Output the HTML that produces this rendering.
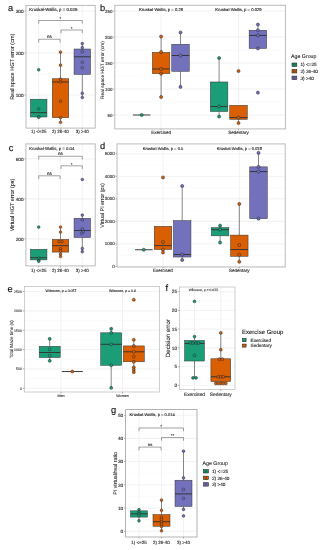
<!DOCTYPE html>
<html lang="en"><head><meta charset="utf-8"><title>Figure</title>
<style>
html,body{margin:0;padding:0;background:#fff;}
body{width:320px;height:550px;overflow:hidden;}
svg{display:block;text-rendering:geometricPrecision;font-family:'Liberation Sans', Arial, sans-serif;}
</style></head>
<body>
<svg width="320" height="550" viewBox="0 0 320 550" font-family='"Liberation Sans", Arial, sans-serif'>
<rect width="320" height="550" fill="#fff"/>
<rect x="26.0" y="5.4" width="69.2" height="122.69999999999999" fill="#fff"/>
<line x1="26.0" x2="95.2" y1="116.00" y2="116.00" stroke="#f2f2f2" stroke-width="0.35"/>
<line x1="26.0" x2="95.2" y1="74.00" y2="74.00" stroke="#f2f2f2" stroke-width="0.35"/>
<line x1="26.0" x2="95.2" y1="32.00" y2="32.00" stroke="#f2f2f2" stroke-width="0.35"/>
<line x1="26.0" x2="95.2" y1="95.00" y2="95.00" stroke="#e9e9e9" stroke-width="0.6"/>
<line x1="24.5" x2="26.0" y1="95.00" y2="95.00" stroke="#555" stroke-width="0.5"/>
<text x="23.60" y="96.69" font-size="4.7" text-anchor="end" fill="#333" stroke="#333" stroke-width="0.141">100</text>
<line x1="26.0" x2="95.2" y1="53.00" y2="53.00" stroke="#e9e9e9" stroke-width="0.6"/>
<line x1="24.5" x2="26.0" y1="53.00" y2="53.00" stroke="#555" stroke-width="0.5"/>
<text x="23.60" y="54.69" font-size="4.7" text-anchor="end" fill="#333" stroke="#333" stroke-width="0.141">200</text>
<line x1="26.0" x2="95.2" y1="11.00" y2="11.00" stroke="#e9e9e9" stroke-width="0.6"/>
<line x1="24.5" x2="26.0" y1="11.00" y2="11.00" stroke="#555" stroke-width="0.5"/>
<text x="23.60" y="12.69" font-size="4.7" text-anchor="end" fill="#333" stroke="#333" stroke-width="0.141">300</text>
<line x1="38.70" x2="38.70" y1="5.4" y2="128.1" stroke="#e9e9e9" stroke-width="0.6"/>
<line x1="38.70" x2="38.70" y1="128.1" y2="129.6" stroke="#555" stroke-width="0.5"/>
<text x="38.70" y="132.95" font-size="4.5" text-anchor="middle" fill="#333" stroke="#333" stroke-width="0.135">1) &lt;=25</text>
<line x1="60.50" x2="60.50" y1="5.4" y2="128.1" stroke="#e9e9e9" stroke-width="0.6"/>
<line x1="60.50" x2="60.50" y1="128.1" y2="129.6" stroke="#555" stroke-width="0.5"/>
<text x="60.50" y="132.95" font-size="4.5" text-anchor="middle" fill="#333" stroke="#333" stroke-width="0.135">2) 26-40</text>
<line x1="82.30" x2="82.30" y1="5.4" y2="128.1" stroke="#e9e9e9" stroke-width="0.6"/>
<line x1="82.30" x2="82.30" y1="128.1" y2="129.6" stroke="#555" stroke-width="0.5"/>
<text x="82.30" y="132.95" font-size="4.5" text-anchor="middle" fill="#333" stroke="#333" stroke-width="0.135">3) &gt;40</text>
<text x="14.20" y="66.75" font-size="5.5" text-anchor="middle" fill="#1a1a1a" stroke="#1a1a1a" stroke-width="0.066" transform="rotate(-90 14.20 66.75)">Real space HGT error (cm)</text>
<text x="7.90" y="11.00" font-size="9.3" text-anchor="start" fill="#111" stroke="#111" stroke-width="0.140">a</text>
<line x1="38.70" x2="38.70" y1="117.01" y2="117.26" stroke="#6a6a6a" stroke-width="0.8"/>
<rect x="30.45" y="99.20" width="16.50" height="17.81" fill="#1B9E77" stroke="#333333" stroke-width="0.5"/>
<line x1="30.45" x2="46.95" y1="112.64" y2="112.64" stroke="#333333" stroke-width="0.95"/>
<circle cx="38.70" cy="69.80" r="1.35" fill="#1B9E77" stroke="#1e1e2a" stroke-opacity="0.85" stroke-width="0.55"/>
<circle cx="38.70" cy="108.86" r="1.35" fill="#1B9E77" stroke="#1e1e2a" stroke-opacity="0.85" stroke-width="0.55"/>
<circle cx="38.70" cy="116.84" r="1.35" fill="#1B9E77" stroke="#1e1e2a" stroke-opacity="0.85" stroke-width="0.55"/>
<circle cx="38.70" cy="117.26" r="1.35" fill="#1B9E77" stroke="#1e1e2a" stroke-opacity="0.85" stroke-width="0.55"/>
<line x1="60.50" x2="60.50" y1="78.75" y2="53.00" stroke="#6a6a6a" stroke-width="0.8"/>
<line x1="60.50" x2="60.50" y1="117.68" y2="122.30" stroke="#6a6a6a" stroke-width="0.8"/>
<rect x="52.25" y="78.75" width="16.50" height="38.93" fill="#D95F02" stroke="#333333" stroke-width="0.5"/>
<line x1="52.25" x2="68.75" y1="81.98" y2="81.98" stroke="#333333" stroke-width="0.95"/>
<circle cx="60.50" cy="52.16" r="1.35" fill="#D95F02" stroke="#1e1e2a" stroke-opacity="0.85" stroke-width="0.55"/>
<circle cx="60.50" cy="65.18" r="1.35" fill="#D95F02" stroke="#1e1e2a" stroke-opacity="0.85" stroke-width="0.55"/>
<circle cx="60.50" cy="79.04" r="1.35" fill="#D95F02" stroke="#1e1e2a" stroke-opacity="0.85" stroke-width="0.55"/>
<circle cx="60.50" cy="81.98" r="1.35" fill="#D95F02" stroke="#1e1e2a" stroke-opacity="0.85" stroke-width="0.55"/>
<circle cx="60.50" cy="101.30" r="1.35" fill="#D95F02" stroke="#1e1e2a" stroke-opacity="0.85" stroke-width="0.55"/>
<circle cx="60.50" cy="117.68" r="1.35" fill="#D95F02" stroke="#1e1e2a" stroke-opacity="0.85" stroke-width="0.55"/>
<circle cx="60.50" cy="122.30" r="1.35" fill="#D95F02" stroke="#1e1e2a" stroke-opacity="0.85" stroke-width="0.55"/>
<line x1="82.30" x2="82.30" y1="49.01" y2="43.51" stroke="#6a6a6a" stroke-width="0.8"/>
<line x1="82.30" x2="82.30" y1="74.42" y2="97.52" stroke="#6a6a6a" stroke-width="0.8"/>
<rect x="74.05" y="49.01" width="16.50" height="25.41" fill="#7471BC" stroke="#333333" stroke-width="0.5"/>
<line x1="74.05" x2="90.55" y1="56.78" y2="56.78" stroke="#333333" stroke-width="0.95"/>
<circle cx="82.30" cy="43.51" r="1.35" fill="#7471BC" stroke="#1e1e2a" stroke-opacity="0.85" stroke-width="0.55"/>
<circle cx="82.30" cy="47.54" r="1.35" fill="#7471BC" stroke="#1e1e2a" stroke-opacity="0.85" stroke-width="0.55"/>
<circle cx="82.30" cy="51.74" r="1.35" fill="#7471BC" stroke="#1e1e2a" stroke-opacity="0.85" stroke-width="0.55"/>
<circle cx="82.30" cy="62.24" r="1.35" fill="#7471BC" stroke="#1e1e2a" stroke-opacity="0.85" stroke-width="0.55"/>
<circle cx="82.30" cy="67.70" r="1.35" fill="#7471BC" stroke="#1e1e2a" stroke-opacity="0.85" stroke-width="0.55"/>
<circle cx="82.30" cy="93.32" r="1.35" fill="#7471BC" stroke="#1e1e2a" stroke-opacity="0.85" stroke-width="0.55"/>
<circle cx="82.30" cy="97.52" r="1.35" fill="#7471BC" stroke="#1e1e2a" stroke-opacity="0.85" stroke-width="0.55"/>
<path d="M38.70 23.70V20.50H82.30V23.70" fill="none" stroke="#333" stroke-width="0.45"/>
<text x="60.50" y="20.30" font-size="4.5" text-anchor="middle" fill="#222" stroke="#222" stroke-width="0.054">*</text>
<path d="M61.00 33.20V30.00H82.30V33.20" fill="none" stroke="#333" stroke-width="0.45"/>
<text x="71.65" y="29.80" font-size="4.5" text-anchor="middle" fill="#222" stroke="#222" stroke-width="0.054">*</text>
<path d="M38.70 42.45V39.25H60.00V42.45" fill="none" stroke="#333" stroke-width="0.45"/>
<text x="49.35" y="38.25" font-size="4.5" text-anchor="middle" fill="#222" stroke="#222" stroke-width="0.135">ns</text>
<text x="29.30" y="11.00" font-size="4.35" text-anchor="start" fill="#222" stroke="#222" stroke-width="0.122">Kruskal-Wallis, p = 0.025</text>
<rect x="26.0" y="5.4" width="69.2" height="122.69999999999999" fill="none" stroke="#b8b8b8" stroke-width="0.95"/>
<rect x="114.8" y="5.3" width="170.59999999999997" height="123.60000000000001" fill="#fff"/>
<line x1="114.8" x2="285.4" y1="102.00" y2="102.00" stroke="#f2f2f2" stroke-width="0.35"/>
<line x1="114.8" x2="285.4" y1="76.00" y2="76.00" stroke="#f2f2f2" stroke-width="0.35"/>
<line x1="114.8" x2="285.4" y1="50.00" y2="50.00" stroke="#f2f2f2" stroke-width="0.35"/>
<line x1="114.8" x2="285.4" y1="24.00" y2="24.00" stroke="#f2f2f2" stroke-width="0.35"/>
<line x1="114.8" x2="285.4" y1="115.00" y2="115.00" stroke="#e9e9e9" stroke-width="0.6"/>
<line x1="113.3" x2="114.8" y1="115.00" y2="115.00" stroke="#555" stroke-width="0.5"/>
<text x="112.40" y="116.58" font-size="4.4" text-anchor="end" fill="#333" stroke="#333" stroke-width="0.132">50</text>
<line x1="114.8" x2="285.4" y1="89.00" y2="89.00" stroke="#e9e9e9" stroke-width="0.6"/>
<line x1="113.3" x2="114.8" y1="89.00" y2="89.00" stroke="#555" stroke-width="0.5"/>
<text x="112.40" y="90.58" font-size="4.4" text-anchor="end" fill="#333" stroke="#333" stroke-width="0.132">100</text>
<line x1="114.8" x2="285.4" y1="63.00" y2="63.00" stroke="#e9e9e9" stroke-width="0.6"/>
<line x1="113.3" x2="114.8" y1="63.00" y2="63.00" stroke="#555" stroke-width="0.5"/>
<text x="112.40" y="64.58" font-size="4.4" text-anchor="end" fill="#333" stroke="#333" stroke-width="0.132">150</text>
<line x1="114.8" x2="285.4" y1="37.00" y2="37.00" stroke="#e9e9e9" stroke-width="0.6"/>
<line x1="113.3" x2="114.8" y1="37.00" y2="37.00" stroke="#555" stroke-width="0.5"/>
<text x="112.40" y="38.58" font-size="4.4" text-anchor="end" fill="#333" stroke="#333" stroke-width="0.132">200</text>
<line x1="114.8" x2="285.4" y1="11.00" y2="11.00" stroke="#e9e9e9" stroke-width="0.6"/>
<line x1="113.3" x2="114.8" y1="11.00" y2="11.00" stroke="#555" stroke-width="0.5"/>
<text x="112.40" y="12.58" font-size="4.4" text-anchor="end" fill="#333" stroke="#333" stroke-width="0.132">250</text>
<line x1="161.10" x2="161.10" y1="5.3" y2="128.9" stroke="#e9e9e9" stroke-width="0.6"/>
<line x1="161.10" x2="161.10" y1="128.9" y2="130.4" stroke="#555" stroke-width="0.5"/>
<text x="161.10" y="133.70" font-size="4.5" text-anchor="middle" fill="#333" stroke="#333" stroke-width="0.135">Exercised</text>
<line x1="238.50" x2="238.50" y1="5.3" y2="128.9" stroke="#e9e9e9" stroke-width="0.6"/>
<line x1="238.50" x2="238.50" y1="128.9" y2="130.4" stroke="#555" stroke-width="0.5"/>
<text x="238.50" y="133.70" font-size="4.5" text-anchor="middle" fill="#333" stroke="#333" stroke-width="0.135">Sedentary</text>
<text x="103.70" y="70.00" font-size="4.8" text-anchor="middle" fill="#1a1a1a" stroke="#1a1a1a" stroke-width="0.058" transform="rotate(-90 103.70 70.00)">Real space HGT error (cm)</text>
<text x="100.00" y="10.80" font-size="9.3" text-anchor="start" fill="#111" stroke="#111" stroke-width="0.140">b</text>
<line x1="132.95" x2="150.45" y1="115.00" y2="115.00" stroke="#333333" stroke-width="0.95"/>
<circle cx="141.70" cy="115.00" r="1.55" fill="#1B9E77" stroke="#1e1e2a" stroke-opacity="0.85" stroke-width="0.55"/>
<line x1="161.10" x2="161.10" y1="52.34" y2="36.48" stroke="#6a6a6a" stroke-width="0.8"/>
<line x1="161.10" x2="161.10" y1="73.66" y2="97.01" stroke="#6a6a6a" stroke-width="0.8"/>
<rect x="152.35" y="52.34" width="17.50" height="21.32" fill="#D95F02" stroke="#333333" stroke-width="0.5"/>
<line x1="152.35" x2="169.85" y1="68.98" y2="68.98" stroke="#333333" stroke-width="0.95"/>
<circle cx="161.10" cy="36.48" r="1.55" fill="#D95F02" stroke="#1e1e2a" stroke-opacity="0.85" stroke-width="0.55"/>
<circle cx="161.10" cy="52.08" r="1.55" fill="#D95F02" stroke="#1e1e2a" stroke-opacity="0.85" stroke-width="0.55"/>
<circle cx="161.10" cy="68.98" r="1.55" fill="#D95F02" stroke="#1e1e2a" stroke-opacity="0.85" stroke-width="0.55"/>
<circle cx="161.10" cy="73.66" r="1.55" fill="#D95F02" stroke="#1e1e2a" stroke-opacity="0.85" stroke-width="0.55"/>
<circle cx="161.10" cy="97.01" r="1.55" fill="#D95F02" stroke="#1e1e2a" stroke-opacity="0.85" stroke-width="0.55"/>
<line x1="180.50" x2="180.50" y1="44.28" y2="32.48" stroke="#6a6a6a" stroke-width="0.8"/>
<line x1="180.50" x2="180.50" y1="71.32" y2="86.92" stroke="#6a6a6a" stroke-width="0.8"/>
<rect x="171.75" y="44.28" width="17.50" height="27.04" fill="#7471BC" stroke="#333333" stroke-width="0.5"/>
<line x1="171.75" x2="189.25" y1="55.51" y2="55.51" stroke="#333333" stroke-width="0.95"/>
<circle cx="180.50" cy="32.48" r="1.55" fill="#7471BC" stroke="#1e1e2a" stroke-opacity="0.85" stroke-width="0.55"/>
<circle cx="180.50" cy="55.51" r="1.55" fill="#7471BC" stroke="#1e1e2a" stroke-opacity="0.85" stroke-width="0.55"/>
<circle cx="180.50" cy="86.92" r="1.55" fill="#7471BC" stroke="#1e1e2a" stroke-opacity="0.85" stroke-width="0.55"/>
<line x1="219.10" x2="219.10" y1="81.98" y2="58.01" stroke="#6a6a6a" stroke-width="0.8"/>
<line x1="219.10" x2="219.10" y1="111.52" y2="116.56" stroke="#6a6a6a" stroke-width="0.8"/>
<rect x="210.35" y="81.98" width="17.50" height="29.54" fill="#1B9E77" stroke="#333333" stroke-width="0.5"/>
<line x1="210.35" x2="227.85" y1="106.52" y2="106.52" stroke="#333333" stroke-width="0.95"/>
<circle cx="219.10" cy="58.01" r="1.55" fill="#1B9E77" stroke="#1e1e2a" stroke-opacity="0.85" stroke-width="0.55"/>
<circle cx="219.10" cy="106.52" r="1.55" fill="#1B9E77" stroke="#1e1e2a" stroke-opacity="0.85" stroke-width="0.55"/>
<circle cx="219.10" cy="116.56" r="1.55" fill="#1B9E77" stroke="#1e1e2a" stroke-opacity="0.85" stroke-width="0.55"/>
<line x1="238.50" x2="238.50" y1="119.37" y2="123.01" stroke="#6a6a6a" stroke-width="0.8"/>
<rect x="229.75" y="105.33" width="17.50" height="14.04" fill="#D95F02" stroke="#333333" stroke-width="0.5"/>
<line x1="229.75" x2="247.25" y1="117.60" y2="117.60" stroke="#333333" stroke-width="0.95"/>
<circle cx="238.50" cy="71.01" r="1.55" fill="#D95F02" stroke="#1e1e2a" stroke-opacity="0.85" stroke-width="0.55"/>
<circle cx="238.50" cy="117.60" r="1.55" fill="#D95F02" stroke="#1e1e2a" stroke-opacity="0.85" stroke-width="0.55"/>
<circle cx="238.50" cy="123.01" r="1.55" fill="#D95F02" stroke="#1e1e2a" stroke-opacity="0.85" stroke-width="0.55"/>
<line x1="257.90" x2="257.90" y1="30.24" y2="24.52" stroke="#6a6a6a" stroke-width="0.8"/>
<rect x="249.15" y="30.24" width="17.50" height="18.20" fill="#7471BC" stroke="#333333" stroke-width="0.5"/>
<line x1="249.15" x2="266.65" y1="35.44" y2="35.44" stroke="#333333" stroke-width="0.95"/>
<circle cx="257.90" cy="24.52" r="1.55" fill="#7471BC" stroke="#1e1e2a" stroke-opacity="0.85" stroke-width="0.55"/>
<circle cx="257.90" cy="30.24" r="1.55" fill="#7471BC" stroke="#1e1e2a" stroke-opacity="0.85" stroke-width="0.55"/>
<circle cx="257.90" cy="35.44" r="1.55" fill="#7471BC" stroke="#1e1e2a" stroke-opacity="0.85" stroke-width="0.55"/>
<circle cx="257.90" cy="48.44" r="1.55" fill="#7471BC" stroke="#1e1e2a" stroke-opacity="0.85" stroke-width="0.55"/>
<circle cx="257.90" cy="92.64" r="1.55" fill="#7471BC" stroke="#1e1e2a" stroke-opacity="0.85" stroke-width="0.55"/>
<text x="161.10" y="11.00" font-size="4.2" text-anchor="middle" fill="#222" stroke="#222" stroke-width="0.118">Kruskal-Wallis, p = 0.28</text>
<text x="238.50" y="11.00" font-size="4.2" text-anchor="middle" fill="#222" stroke="#222" stroke-width="0.118">Kruskal-Wallis, p = 0.029</text>
<rect x="114.8" y="5.3" width="170.59999999999997" height="123.60000000000001" fill="none" stroke="#b8b8b8" stroke-width="0.95"/>
<text x="291.00" y="58.40" font-size="5.25" text-anchor="start" fill="#111" stroke="#111" stroke-width="0.063">Age Group</text>
<rect x="292.00" y="63.00" width="4.8" height="3.4" fill="#1B9E77" stroke="#222" stroke-width="0.6"/>
<circle cx="294.40" cy="64.70" r="0.9" fill="#1B9E77" stroke="#222" stroke-width="0.4"/>
<text x="300.50" y="66.39" font-size="4.7" text-anchor="start" fill="#222" stroke="#222" stroke-width="0.118">1) &lt;=25</text>
<rect x="292.00" y="69.56" width="4.8" height="3.4" fill="#D95F02" stroke="#222" stroke-width="0.6"/>
<circle cx="294.40" cy="71.26" r="0.9" fill="#D95F02" stroke="#222" stroke-width="0.4"/>
<text x="300.50" y="72.95" font-size="4.7" text-anchor="start" fill="#222" stroke="#222" stroke-width="0.118">2) 26-40</text>
<rect x="292.00" y="76.12" width="4.8" height="3.4" fill="#7471BC" stroke="#222" stroke-width="0.6"/>
<circle cx="294.40" cy="77.82" r="0.9" fill="#7471BC" stroke="#222" stroke-width="0.4"/>
<text x="300.50" y="79.51" font-size="4.7" text-anchor="start" fill="#222" stroke="#222" stroke-width="0.118">3) &gt;40</text>
<rect x="25.9" y="143.9" width="69.30000000000001" height="121.99999999999997" fill="#fff"/>
<line x1="25.9" x2="95.2" y1="258.90" y2="258.90" stroke="#f2f2f2" stroke-width="0.35"/>
<line x1="25.9" x2="95.2" y1="218.90" y2="218.90" stroke="#f2f2f2" stroke-width="0.35"/>
<line x1="25.9" x2="95.2" y1="178.90" y2="178.90" stroke="#f2f2f2" stroke-width="0.35"/>
<line x1="25.9" x2="95.2" y1="238.90" y2="238.90" stroke="#e9e9e9" stroke-width="0.6"/>
<line x1="24.4" x2="25.9" y1="238.90" y2="238.90" stroke="#555" stroke-width="0.5"/>
<text x="23.50" y="240.59" font-size="4.7" text-anchor="end" fill="#333" stroke="#333" stroke-width="0.141">200</text>
<line x1="25.9" x2="95.2" y1="198.90" y2="198.90" stroke="#e9e9e9" stroke-width="0.6"/>
<line x1="24.4" x2="25.9" y1="198.90" y2="198.90" stroke="#555" stroke-width="0.5"/>
<text x="23.50" y="200.59" font-size="4.7" text-anchor="end" fill="#333" stroke="#333" stroke-width="0.141">400</text>
<line x1="25.9" x2="95.2" y1="158.90" y2="158.90" stroke="#e9e9e9" stroke-width="0.6"/>
<line x1="24.4" x2="25.9" y1="158.90" y2="158.90" stroke="#555" stroke-width="0.5"/>
<text x="23.50" y="160.59" font-size="4.7" text-anchor="end" fill="#333" stroke="#333" stroke-width="0.141">600</text>
<line x1="38.70" x2="38.70" y1="143.9" y2="265.9" stroke="#e9e9e9" stroke-width="0.6"/>
<line x1="38.70" x2="38.70" y1="265.9" y2="267.4" stroke="#555" stroke-width="0.5"/>
<text x="38.70" y="271.70" font-size="4.5" text-anchor="middle" fill="#333" stroke="#333" stroke-width="0.135">1) &lt;=25</text>
<line x1="60.50" x2="60.50" y1="143.9" y2="265.9" stroke="#e9e9e9" stroke-width="0.6"/>
<line x1="60.50" x2="60.50" y1="265.9" y2="267.4" stroke="#555" stroke-width="0.5"/>
<text x="60.50" y="271.70" font-size="4.5" text-anchor="middle" fill="#333" stroke="#333" stroke-width="0.135">2) 26-40</text>
<line x1="82.30" x2="82.30" y1="143.9" y2="265.9" stroke="#e9e9e9" stroke-width="0.6"/>
<line x1="82.30" x2="82.30" y1="265.9" y2="267.4" stroke="#555" stroke-width="0.5"/>
<text x="82.30" y="271.70" font-size="4.5" text-anchor="middle" fill="#333" stroke="#333" stroke-width="0.135">3) &gt;40</text>
<text x="14.30" y="204.90" font-size="5.5" text-anchor="middle" fill="#1a1a1a" stroke="#1a1a1a" stroke-width="0.066" transform="rotate(-90 14.30 204.90)">Virtual HGT error (px)</text>
<text x="8.80" y="150.50" font-size="9.3" text-anchor="start" fill="#111" stroke="#111" stroke-width="0.140">c</text>
<line x1="38.70" x2="38.70" y1="259.90" y2="261.30" stroke="#6a6a6a" stroke-width="0.8"/>
<rect x="30.45" y="249.30" width="16.50" height="10.60" fill="#1B9E77" stroke="#333333" stroke-width="0.5"/>
<line x1="30.45" x2="46.95" y1="257.70" y2="257.70" stroke="#333333" stroke-width="0.95"/>
<circle cx="38.70" cy="227.10" r="1.35" fill="#1B9E77" stroke="#1e1e2a" stroke-opacity="0.85" stroke-width="0.55"/>
<circle cx="38.70" cy="258.10" r="1.35" fill="#1B9E77" stroke="#1e1e2a" stroke-opacity="0.85" stroke-width="0.55"/>
<circle cx="38.70" cy="260.50" r="1.35" fill="#1B9E77" stroke="#1e1e2a" stroke-opacity="0.85" stroke-width="0.55"/>
<circle cx="38.70" cy="261.30" r="1.35" fill="#1B9E77" stroke="#1e1e2a" stroke-opacity="0.85" stroke-width="0.55"/>
<line x1="60.50" x2="60.50" y1="239.40" y2="227.10" stroke="#6a6a6a" stroke-width="0.8"/>
<line x1="60.50" x2="60.50" y1="252.10" y2="256.90" stroke="#6a6a6a" stroke-width="0.8"/>
<rect x="52.25" y="239.40" width="16.50" height="12.70" fill="#D95F02" stroke="#333333" stroke-width="0.5"/>
<line x1="52.25" x2="68.75" y1="245.70" y2="245.70" stroke="#333333" stroke-width="0.95"/>
<circle cx="60.50" cy="227.10" r="1.35" fill="#D95F02" stroke="#1e1e2a" stroke-opacity="0.85" stroke-width="0.55"/>
<circle cx="60.50" cy="232.10" r="1.35" fill="#D95F02" stroke="#1e1e2a" stroke-opacity="0.85" stroke-width="0.55"/>
<circle cx="59.00" cy="241.50" r="1.35" fill="#D95F02" stroke="#1e1e2a" stroke-opacity="0.85" stroke-width="0.55"/>
<circle cx="62.00" cy="241.50" r="1.35" fill="#D95F02" stroke="#1e1e2a" stroke-opacity="0.85" stroke-width="0.55"/>
<circle cx="60.50" cy="248.90" r="1.35" fill="#D95F02" stroke="#1e1e2a" stroke-opacity="0.85" stroke-width="0.55"/>
<circle cx="60.50" cy="250.90" r="1.35" fill="#D95F02" stroke="#1e1e2a" stroke-opacity="0.85" stroke-width="0.55"/>
<circle cx="60.50" cy="254.10" r="1.35" fill="#D95F02" stroke="#1e1e2a" stroke-opacity="0.85" stroke-width="0.55"/>
<circle cx="60.50" cy="256.50" r="1.35" fill="#D95F02" stroke="#1e1e2a" stroke-opacity="0.85" stroke-width="0.55"/>
<line x1="82.30" x2="82.30" y1="218.30" y2="215.10" stroke="#6a6a6a" stroke-width="0.8"/>
<line x1="82.30" x2="82.30" y1="237.50" y2="251.90" stroke="#6a6a6a" stroke-width="0.8"/>
<rect x="74.05" y="218.30" width="16.50" height="19.20" fill="#7471BC" stroke="#333333" stroke-width="0.5"/>
<line x1="74.05" x2="90.55" y1="230.50" y2="230.50" stroke="#333333" stroke-width="0.95"/>
<circle cx="82.30" cy="179.50" r="1.35" fill="#7471BC" stroke="#1e1e2a" stroke-opacity="0.85" stroke-width="0.55"/>
<circle cx="82.30" cy="215.10" r="1.35" fill="#7471BC" stroke="#1e1e2a" stroke-opacity="0.85" stroke-width="0.55"/>
<circle cx="82.30" cy="219.90" r="1.35" fill="#7471BC" stroke="#1e1e2a" stroke-opacity="0.85" stroke-width="0.55"/>
<circle cx="82.30" cy="229.10" r="1.35" fill="#7471BC" stroke="#1e1e2a" stroke-opacity="0.85" stroke-width="0.55"/>
<circle cx="83.10" cy="231.70" r="1.35" fill="#7471BC" stroke="#1e1e2a" stroke-opacity="0.85" stroke-width="0.55"/>
<circle cx="81.80" cy="233.30" r="1.35" fill="#7471BC" stroke="#1e1e2a" stroke-opacity="0.85" stroke-width="0.55"/>
<circle cx="82.30" cy="248.50" r="1.35" fill="#7471BC" stroke="#1e1e2a" stroke-opacity="0.85" stroke-width="0.55"/>
<circle cx="82.30" cy="251.70" r="1.35" fill="#7471BC" stroke="#1e1e2a" stroke-opacity="0.85" stroke-width="0.55"/>
<path d="M38.70 159.50V156.30H82.30V159.50" fill="none" stroke="#333" stroke-width="0.45"/>
<text x="60.50" y="155.30" font-size="4.5" text-anchor="middle" fill="#222" stroke="#222" stroke-width="0.135">ns</text>
<path d="M61.00 169.00V165.80H82.30V169.00" fill="none" stroke="#333" stroke-width="0.45"/>
<text x="71.65" y="165.60" font-size="4.5" text-anchor="middle" fill="#222" stroke="#222" stroke-width="0.054">*</text>
<path d="M38.70 179.00V175.80H60.00V179.00" fill="none" stroke="#333" stroke-width="0.45"/>
<text x="49.35" y="174.80" font-size="4.5" text-anchor="middle" fill="#222" stroke="#222" stroke-width="0.135">ns</text>
<text x="29.30" y="149.80" font-size="4.3" text-anchor="start" fill="#222" stroke="#222" stroke-width="0.120">Kruskal-Wallis, p = 0.04</text>
<rect x="25.9" y="143.9" width="69.30000000000001" height="121.99999999999997" fill="none" stroke="#b8b8b8" stroke-width="0.95"/>
<rect x="117" y="143.9" width="168.2" height="123.1" fill="#fff"/>
<line x1="117" x2="285.2" y1="255.14" y2="255.14" stroke="#f2f2f2" stroke-width="0.35"/>
<line x1="117" x2="285.2" y1="232.62" y2="232.62" stroke="#f2f2f2" stroke-width="0.35"/>
<line x1="117" x2="285.2" y1="210.10" y2="210.10" stroke="#f2f2f2" stroke-width="0.35"/>
<line x1="117" x2="285.2" y1="187.58" y2="187.58" stroke="#f2f2f2" stroke-width="0.35"/>
<line x1="117" x2="285.2" y1="165.06" y2="165.06" stroke="#f2f2f2" stroke-width="0.35"/>
<line x1="117" x2="285.2" y1="266.40" y2="266.40" stroke="#e9e9e9" stroke-width="0.6"/>
<line x1="115.5" x2="117" y1="266.40" y2="266.40" stroke="#555" stroke-width="0.5"/>
<text x="114.60" y="267.98" font-size="4.4" text-anchor="end" fill="#333" stroke="#333" stroke-width="0.132">0</text>
<line x1="117" x2="285.2" y1="243.88" y2="243.88" stroke="#e9e9e9" stroke-width="0.6"/>
<line x1="115.5" x2="117" y1="243.88" y2="243.88" stroke="#555" stroke-width="0.5"/>
<text x="114.60" y="245.46" font-size="4.4" text-anchor="end" fill="#333" stroke="#333" stroke-width="0.132">1000</text>
<line x1="117" x2="285.2" y1="221.36" y2="221.36" stroke="#e9e9e9" stroke-width="0.6"/>
<line x1="115.5" x2="117" y1="221.36" y2="221.36" stroke="#555" stroke-width="0.5"/>
<text x="114.60" y="222.94" font-size="4.4" text-anchor="end" fill="#333" stroke="#333" stroke-width="0.132">2000</text>
<line x1="117" x2="285.2" y1="198.84" y2="198.84" stroke="#e9e9e9" stroke-width="0.6"/>
<line x1="115.5" x2="117" y1="198.84" y2="198.84" stroke="#555" stroke-width="0.5"/>
<text x="114.60" y="200.42" font-size="4.4" text-anchor="end" fill="#333" stroke="#333" stroke-width="0.132">3000</text>
<line x1="117" x2="285.2" y1="176.32" y2="176.32" stroke="#e9e9e9" stroke-width="0.6"/>
<line x1="115.5" x2="117" y1="176.32" y2="176.32" stroke="#555" stroke-width="0.5"/>
<text x="114.60" y="177.90" font-size="4.4" text-anchor="end" fill="#333" stroke="#333" stroke-width="0.132">4000</text>
<line x1="117" x2="285.2" y1="153.80" y2="153.80" stroke="#e9e9e9" stroke-width="0.6"/>
<line x1="115.5" x2="117" y1="153.80" y2="153.80" stroke="#555" stroke-width="0.5"/>
<text x="114.60" y="155.38" font-size="4.4" text-anchor="end" fill="#333" stroke="#333" stroke-width="0.132">5000</text>
<line x1="163.00" x2="163.00" y1="143.9" y2="267.0" stroke="#e9e9e9" stroke-width="0.6"/>
<line x1="163.00" x2="163.00" y1="267.0" y2="268.5" stroke="#555" stroke-width="0.5"/>
<text x="163.00" y="272.40" font-size="4.5" text-anchor="middle" fill="#333" stroke="#333" stroke-width="0.135">Exercised</text>
<line x1="239.30" x2="239.30" y1="143.9" y2="267.0" stroke="#e9e9e9" stroke-width="0.6"/>
<line x1="239.30" x2="239.30" y1="267.0" y2="268.5" stroke="#555" stroke-width="0.5"/>
<text x="239.30" y="272.40" font-size="4.5" text-anchor="middle" fill="#333" stroke="#333" stroke-width="0.135">Sedentary</text>
<text x="104.10" y="205.45" font-size="5.3" text-anchor="middle" fill="#1a1a1a" stroke="#1a1a1a" stroke-width="0.064" transform="rotate(-90 104.10 205.45)">Virtual PI error (px)</text>
<text x="100.00" y="148.70" font-size="9.3" text-anchor="start" fill="#111" stroke="#111" stroke-width="0.140">d</text>
<line x1="135.05" x2="152.55" y1="249.74" y2="249.74" stroke="#333333" stroke-width="0.95"/>
<circle cx="143.80" cy="249.74" r="1.55" fill="#1B9E77" stroke="#1e1e2a" stroke-opacity="0.85" stroke-width="0.55"/>
<line x1="163.00" x2="163.00" y1="249.51" y2="252.44" stroke="#6a6a6a" stroke-width="0.8"/>
<rect x="154.25" y="226.31" width="17.50" height="23.20" fill="#D95F02" stroke="#333333" stroke-width="0.5"/>
<line x1="154.25" x2="171.75" y1="245.57" y2="245.57" stroke="#333333" stroke-width="0.95"/>
<circle cx="163.00" cy="177.45" r="1.55" fill="#D95F02" stroke="#1e1e2a" stroke-opacity="0.85" stroke-width="0.55"/>
<circle cx="163.00" cy="242.08" r="1.55" fill="#D95F02" stroke="#1e1e2a" stroke-opacity="0.85" stroke-width="0.55"/>
<circle cx="163.00" cy="249.51" r="1.55" fill="#D95F02" stroke="#1e1e2a" stroke-opacity="0.85" stroke-width="0.55"/>
<circle cx="163.00" cy="252.44" r="1.55" fill="#D95F02" stroke="#1e1e2a" stroke-opacity="0.85" stroke-width="0.55"/>
<line x1="182.20" x2="182.20" y1="220.62" y2="185.96" stroke="#6a6a6a" stroke-width="0.8"/>
<line x1="182.20" x2="182.20" y1="257.03" y2="260.03" stroke="#6a6a6a" stroke-width="0.8"/>
<rect x="173.45" y="220.62" width="17.50" height="36.41" fill="#7471BC" stroke="#333333" stroke-width="0.5"/>
<line x1="173.45" x2="190.95" y1="254.53" y2="254.53" stroke="#333333" stroke-width="0.95"/>
<circle cx="182.20" cy="185.96" r="1.55" fill="#7471BC" stroke="#1e1e2a" stroke-opacity="0.85" stroke-width="0.55"/>
<circle cx="182.20" cy="254.53" r="1.55" fill="#7471BC" stroke="#1e1e2a" stroke-opacity="0.85" stroke-width="0.55"/>
<circle cx="182.20" cy="260.03" r="1.55" fill="#7471BC" stroke="#1e1e2a" stroke-opacity="0.85" stroke-width="0.55"/>
<line x1="220.10" x2="220.10" y1="227.60" y2="225.62" stroke="#6a6a6a" stroke-width="0.8"/>
<line x1="220.10" x2="220.10" y1="235.84" y2="242.57" stroke="#6a6a6a" stroke-width="0.8"/>
<rect x="211.35" y="227.60" width="17.50" height="8.24" fill="#1B9E77" stroke="#333333" stroke-width="0.5"/>
<line x1="211.35" x2="228.85" y1="229.69" y2="229.69" stroke="#333333" stroke-width="0.95"/>
<circle cx="220.10" cy="225.62" r="1.55" fill="#1B9E77" stroke="#1e1e2a" stroke-opacity="0.85" stroke-width="0.55"/>
<circle cx="220.10" cy="229.69" r="1.55" fill="#1B9E77" stroke="#1e1e2a" stroke-opacity="0.85" stroke-width="0.55"/>
<circle cx="220.10" cy="242.57" r="1.55" fill="#1B9E77" stroke="#1e1e2a" stroke-opacity="0.85" stroke-width="0.55"/>
<line x1="239.30" x2="239.30" y1="235.10" y2="203.91" stroke="#6a6a6a" stroke-width="0.8"/>
<line x1="239.30" x2="239.30" y1="256.27" y2="261.78" stroke="#6a6a6a" stroke-width="0.8"/>
<rect x="230.55" y="235.10" width="17.50" height="21.17" fill="#D95F02" stroke="#333333" stroke-width="0.5"/>
<line x1="230.55" x2="248.05" y1="249.56" y2="249.56" stroke="#333333" stroke-width="0.95"/>
<circle cx="239.30" cy="203.91" r="1.55" fill="#D95F02" stroke="#1e1e2a" stroke-opacity="0.85" stroke-width="0.55"/>
<circle cx="239.30" cy="245.01" r="1.55" fill="#D95F02" stroke="#1e1e2a" stroke-opacity="0.85" stroke-width="0.55"/>
<circle cx="239.30" cy="254.69" r="1.55" fill="#D95F02" stroke="#1e1e2a" stroke-opacity="0.85" stroke-width="0.55"/>
<circle cx="239.30" cy="261.78" r="1.55" fill="#D95F02" stroke="#1e1e2a" stroke-opacity="0.85" stroke-width="0.55"/>
<line x1="258.50" x2="258.50" y1="166.86" y2="152.90" stroke="#6a6a6a" stroke-width="0.8"/>
<rect x="249.75" y="166.86" width="17.50" height="51.80" fill="#7471BC" stroke="#333333" stroke-width="0.5"/>
<line x1="249.75" x2="267.25" y1="171.59" y2="171.59" stroke="#333333" stroke-width="0.95"/>
<circle cx="258.50" cy="152.90" r="1.55" fill="#7471BC" stroke="#1e1e2a" stroke-opacity="0.85" stroke-width="0.55"/>
<circle cx="258.50" cy="166.86" r="1.55" fill="#7471BC" stroke="#1e1e2a" stroke-opacity="0.85" stroke-width="0.55"/>
<circle cx="258.50" cy="171.59" r="1.55" fill="#7471BC" stroke="#1e1e2a" stroke-opacity="0.85" stroke-width="0.55"/>
<circle cx="258.50" cy="218.66" r="1.55" fill="#7471BC" stroke="#1e1e2a" stroke-opacity="0.85" stroke-width="0.55"/>
<text x="163.00" y="149.80" font-size="4.1" text-anchor="middle" fill="#222" stroke="#222" stroke-width="0.115">Kruskal-Wallis, p = 0.5</text>
<text x="239.30" y="149.80" font-size="4.1" text-anchor="middle" fill="#222" stroke="#222" stroke-width="0.115">Kruskal-Wallis, p = 0.038</text>
<rect x="117" y="143.9" width="168.2" height="123.1" fill="none" stroke="#b8b8b8" stroke-width="0.95"/>
<rect x="24.3" y="286.3" width="135.2" height="105.69999999999999" fill="#fff"/>
<line x1="24.3" x2="159.5" y1="378.62" y2="378.62" stroke="#f2f2f2" stroke-width="0.35"/>
<line x1="24.3" x2="159.5" y1="359.28" y2="359.28" stroke="#f2f2f2" stroke-width="0.35"/>
<line x1="24.3" x2="159.5" y1="339.93" y2="339.93" stroke="#f2f2f2" stroke-width="0.35"/>
<line x1="24.3" x2="159.5" y1="320.58" y2="320.58" stroke="#f2f2f2" stroke-width="0.35"/>
<line x1="24.3" x2="159.5" y1="301.23" y2="301.23" stroke="#f2f2f2" stroke-width="0.35"/>
<line x1="24.3" x2="159.5" y1="388.30" y2="388.30" stroke="#e9e9e9" stroke-width="0.6"/>
<line x1="22.8" x2="24.3" y1="388.30" y2="388.30" stroke="#555" stroke-width="0.5"/>
<text x="21.90" y="389.56" font-size="3.5" text-anchor="end" fill="#333" stroke="#333" stroke-width="0.105">0</text>
<line x1="24.3" x2="159.5" y1="368.95" y2="368.95" stroke="#e9e9e9" stroke-width="0.6"/>
<line x1="22.8" x2="24.3" y1="368.95" y2="368.95" stroke="#555" stroke-width="0.5"/>
<text x="21.90" y="370.21" font-size="3.5" text-anchor="end" fill="#333" stroke="#333" stroke-width="0.105">500</text>
<line x1="24.3" x2="159.5" y1="349.60" y2="349.60" stroke="#e9e9e9" stroke-width="0.6"/>
<line x1="22.8" x2="24.3" y1="349.60" y2="349.60" stroke="#555" stroke-width="0.5"/>
<text x="21.90" y="350.86" font-size="3.5" text-anchor="end" fill="#333" stroke="#333" stroke-width="0.105">1000</text>
<line x1="24.3" x2="159.5" y1="330.25" y2="330.25" stroke="#e9e9e9" stroke-width="0.6"/>
<line x1="22.8" x2="24.3" y1="330.25" y2="330.25" stroke="#555" stroke-width="0.5"/>
<text x="21.90" y="331.51" font-size="3.5" text-anchor="end" fill="#333" stroke="#333" stroke-width="0.105">1500</text>
<line x1="24.3" x2="159.5" y1="310.90" y2="310.90" stroke="#e9e9e9" stroke-width="0.6"/>
<line x1="22.8" x2="24.3" y1="310.90" y2="310.90" stroke="#555" stroke-width="0.5"/>
<text x="21.90" y="312.16" font-size="3.5" text-anchor="end" fill="#333" stroke="#333" stroke-width="0.105">2000</text>
<line x1="24.3" x2="159.5" y1="291.55" y2="291.55" stroke="#e9e9e9" stroke-width="0.6"/>
<line x1="22.8" x2="24.3" y1="291.55" y2="291.55" stroke="#555" stroke-width="0.5"/>
<text x="21.90" y="292.81" font-size="3.5" text-anchor="end" fill="#333" stroke="#333" stroke-width="0.105">2500</text>
<line x1="61.00" x2="61.00" y1="286.3" y2="392" stroke="#e9e9e9" stroke-width="0.6"/>
<line x1="61.00" x2="61.00" y1="392" y2="393.5" stroke="#555" stroke-width="0.5"/>
<text x="61.00" y="397.30" font-size="3.7" text-anchor="middle" fill="#333" stroke="#333" stroke-width="0.111">Men</text>
<line x1="122.50" x2="122.50" y1="286.3" y2="392" stroke="#e9e9e9" stroke-width="0.6"/>
<line x1="122.50" x2="122.50" y1="392" y2="393.5" stroke="#555" stroke-width="0.5"/>
<text x="122.50" y="397.30" font-size="3.7" text-anchor="middle" fill="#333" stroke="#333" stroke-width="0.111">Women</text>
<text x="12.90" y="339.15" font-size="4.5" text-anchor="middle" fill="#1a1a1a" stroke="#1a1a1a" stroke-width="0.054" transform="rotate(-90 12.90 339.15)">Total Maze time (s)</text>
<text x="7.50" y="292.00" font-size="9.3" text-anchor="start" fill="#111" stroke="#111" stroke-width="0.140">e</text>
<line x1="49.70" x2="49.70" y1="346.31" y2="338.84" stroke="#6a6a6a" stroke-width="0.8"/>
<line x1="49.70" x2="49.70" y1="357.53" y2="360.82" stroke="#6a6a6a" stroke-width="0.8"/>
<rect x="39.20" y="346.31" width="21.00" height="11.22" fill="#1B9E77" stroke="#333333" stroke-width="0.5"/>
<line x1="39.20" x2="60.20" y1="352.50" y2="352.50" stroke="#333333" stroke-width="0.95"/>
<circle cx="49.70" cy="338.84" r="1.5" fill="#1B9E77" stroke="#1e1e2a" stroke-opacity="0.85" stroke-width="0.55"/>
<circle cx="49.70" cy="349.41" r="1.5" fill="#1B9E77" stroke="#1e1e2a" stroke-opacity="0.85" stroke-width="0.55"/>
<circle cx="49.70" cy="355.60" r="1.5" fill="#1B9E77" stroke="#1e1e2a" stroke-opacity="0.85" stroke-width="0.55"/>
<circle cx="49.70" cy="360.82" r="1.5" fill="#1B9E77" stroke="#1e1e2a" stroke-opacity="0.85" stroke-width="0.55"/>
<line x1="61.80" x2="82.80" y1="371.54" y2="371.54" stroke="#333333" stroke-width="0.95"/>
<circle cx="72.30" cy="371.54" r="1.5" fill="#D95F02" stroke="#1e1e2a" stroke-opacity="0.85" stroke-width="0.55"/>
<line x1="111.20" x2="111.20" y1="332.80" y2="328.70" stroke="#6a6a6a" stroke-width="0.8"/>
<line x1="111.20" x2="111.20" y1="365.31" y2="387.80" stroke="#6a6a6a" stroke-width="0.8"/>
<rect x="100.70" y="332.80" width="21.00" height="32.51" fill="#1B9E77" stroke="#333333" stroke-width="0.5"/>
<line x1="100.70" x2="121.70" y1="344.30" y2="344.30" stroke="#333333" stroke-width="0.95"/>
<circle cx="111.20" cy="328.70" r="1.5" fill="#1B9E77" stroke="#1e1e2a" stroke-opacity="0.85" stroke-width="0.55"/>
<circle cx="111.20" cy="332.80" r="1.5" fill="#1B9E77" stroke="#1e1e2a" stroke-opacity="0.85" stroke-width="0.55"/>
<circle cx="111.20" cy="344.30" r="1.5" fill="#1B9E77" stroke="#1e1e2a" stroke-opacity="0.85" stroke-width="0.55"/>
<circle cx="111.20" cy="365.31" r="1.5" fill="#1B9E77" stroke="#1e1e2a" stroke-opacity="0.85" stroke-width="0.55"/>
<circle cx="111.20" cy="387.80" r="1.5" fill="#1B9E77" stroke="#1e1e2a" stroke-opacity="0.85" stroke-width="0.55"/>
<line x1="133.80" x2="133.80" y1="345.92" y2="339.69" stroke="#6a6a6a" stroke-width="0.8"/>
<line x1="133.80" x2="133.80" y1="361.79" y2="372.20" stroke="#6a6a6a" stroke-width="0.8"/>
<rect x="123.30" y="345.92" width="21.00" height="15.87" fill="#D95F02" stroke="#333333" stroke-width="0.5"/>
<line x1="123.30" x2="144.30" y1="351.81" y2="351.81" stroke="#333333" stroke-width="0.95"/>
<circle cx="133.80" cy="299.68" r="1.5" fill="#D95F02" stroke="#1e1e2a" stroke-opacity="0.85" stroke-width="0.55"/>
<circle cx="133.80" cy="339.69" r="1.5" fill="#D95F02" stroke="#1e1e2a" stroke-opacity="0.85" stroke-width="0.55"/>
<circle cx="133.80" cy="345.92" r="1.5" fill="#D95F02" stroke="#1e1e2a" stroke-opacity="0.85" stroke-width="0.55"/>
<circle cx="133.80" cy="351.81" r="1.5" fill="#D95F02" stroke="#1e1e2a" stroke-opacity="0.85" stroke-width="0.55"/>
<circle cx="133.80" cy="356.57" r="1.5" fill="#D95F02" stroke="#1e1e2a" stroke-opacity="0.85" stroke-width="0.55"/>
<circle cx="133.80" cy="361.79" r="1.5" fill="#D95F02" stroke="#1e1e2a" stroke-opacity="0.85" stroke-width="0.55"/>
<circle cx="133.80" cy="367.29" r="1.5" fill="#D95F02" stroke="#1e1e2a" stroke-opacity="0.85" stroke-width="0.55"/>
<circle cx="133.80" cy="369.72" r="1.5" fill="#D95F02" stroke="#1e1e2a" stroke-opacity="0.85" stroke-width="0.55"/>
<circle cx="133.80" cy="372.20" r="1.5" fill="#D95F02" stroke="#1e1e2a" stroke-opacity="0.85" stroke-width="0.55"/>
<text x="61.00" y="292.00" font-size="3.5" text-anchor="middle" fill="#222" stroke="#222" stroke-width="0.098">Wilcoxon, p = 0.057</text>
<text x="122.50" y="292.00" font-size="3.5" text-anchor="middle" fill="#222" stroke="#222" stroke-width="0.098">Wilcoxon, p = 0.8</text>
<rect x="24.3" y="286.3" width="135.2" height="105.69999999999999" fill="none" stroke="#b0b0b0" stroke-width="0.6"/>
<rect x="179.5" y="287" width="55.5" height="102.30000000000001" fill="#fff"/>
<line x1="179.5" x2="235" y1="376.02" y2="376.02" stroke="#f2f2f2" stroke-width="0.35"/>
<line x1="179.5" x2="235" y1="357.27" y2="357.27" stroke="#f2f2f2" stroke-width="0.35"/>
<line x1="179.5" x2="235" y1="338.52" y2="338.52" stroke="#f2f2f2" stroke-width="0.35"/>
<line x1="179.5" x2="235" y1="319.77" y2="319.77" stroke="#f2f2f2" stroke-width="0.35"/>
<line x1="179.5" x2="235" y1="301.02" y2="301.02" stroke="#f2f2f2" stroke-width="0.35"/>
<line x1="179.5" x2="235" y1="385.40" y2="385.40" stroke="#e9e9e9" stroke-width="0.6"/>
<line x1="178.0" x2="179.5" y1="385.40" y2="385.40" stroke="#555" stroke-width="0.5"/>
<text x="177.10" y="387.13" font-size="4.8" text-anchor="end" fill="#333" stroke="#333" stroke-width="0.144">0</text>
<line x1="179.5" x2="235" y1="366.65" y2="366.65" stroke="#e9e9e9" stroke-width="0.6"/>
<line x1="178.0" x2="179.5" y1="366.65" y2="366.65" stroke="#555" stroke-width="0.5"/>
<text x="177.10" y="368.38" font-size="4.8" text-anchor="end" fill="#333" stroke="#333" stroke-width="0.144">5</text>
<line x1="179.5" x2="235" y1="347.90" y2="347.90" stroke="#e9e9e9" stroke-width="0.6"/>
<line x1="178.0" x2="179.5" y1="347.90" y2="347.90" stroke="#555" stroke-width="0.5"/>
<text x="177.10" y="349.63" font-size="4.8" text-anchor="end" fill="#333" stroke="#333" stroke-width="0.144">10</text>
<line x1="179.5" x2="235" y1="329.15" y2="329.15" stroke="#e9e9e9" stroke-width="0.6"/>
<line x1="178.0" x2="179.5" y1="329.15" y2="329.15" stroke="#555" stroke-width="0.5"/>
<text x="177.10" y="330.88" font-size="4.8" text-anchor="end" fill="#333" stroke="#333" stroke-width="0.144">15</text>
<line x1="179.5" x2="235" y1="310.40" y2="310.40" stroke="#e9e9e9" stroke-width="0.6"/>
<line x1="178.0" x2="179.5" y1="310.40" y2="310.40" stroke="#555" stroke-width="0.5"/>
<text x="177.10" y="312.13" font-size="4.8" text-anchor="end" fill="#333" stroke="#333" stroke-width="0.144">20</text>
<line x1="179.5" x2="235" y1="291.65" y2="291.65" stroke="#e9e9e9" stroke-width="0.6"/>
<line x1="178.0" x2="179.5" y1="291.65" y2="291.65" stroke="#555" stroke-width="0.5"/>
<text x="177.10" y="293.38" font-size="4.8" text-anchor="end" fill="#333" stroke="#333" stroke-width="0.144">25</text>
<line x1="194.50" x2="194.50" y1="287" y2="389.3" stroke="#e9e9e9" stroke-width="0.6"/>
<line x1="194.50" x2="194.50" y1="389.3" y2="390.8" stroke="#555" stroke-width="0.5"/>
<text x="194.50" y="395.50" font-size="4.8" text-anchor="middle" fill="#333" stroke="#333" stroke-width="0.144">Exercised</text>
<line x1="220.80" x2="220.80" y1="287" y2="389.3" stroke="#e9e9e9" stroke-width="0.6"/>
<line x1="220.80" x2="220.80" y1="389.3" y2="390.8" stroke="#555" stroke-width="0.5"/>
<text x="220.80" y="395.50" font-size="4.8" text-anchor="middle" fill="#333" stroke="#333" stroke-width="0.144">Sedentary</text>
<text x="170.20" y="338.15" font-size="6.1" text-anchor="middle" fill="#1a1a1a" stroke="#1a1a1a" stroke-width="0.073" transform="rotate(-90 170.20 338.15)">Decision error</text>
<text x="165.50" y="291.30" font-size="9.3" text-anchor="start" fill="#111" stroke="#111" stroke-width="0.140">f</text>
<line x1="194.50" x2="194.50" y1="340.40" y2="336.65" stroke="#6a6a6a" stroke-width="0.8"/>
<line x1="194.50" x2="194.50" y1="361.02" y2="377.90" stroke="#6a6a6a" stroke-width="0.8"/>
<rect x="184.60" y="340.40" width="19.80" height="20.62" fill="#1B9E77" stroke="#333333" stroke-width="0.5"/>
<line x1="184.60" x2="204.40" y1="343.40" y2="343.40" stroke="#333333" stroke-width="0.95"/>
<circle cx="194.50" cy="301.40" r="1.45" fill="#1B9E77" stroke="#1e1e2a" stroke-opacity="0.85" stroke-width="0.55"/>
<circle cx="194.50" cy="336.65" r="1.45" fill="#1B9E77" stroke="#1e1e2a" stroke-opacity="0.85" stroke-width="0.55"/>
<circle cx="190.50" cy="343.02" r="1.45" fill="#1B9E77" stroke="#1e1e2a" stroke-opacity="0.85" stroke-width="0.55"/>
<circle cx="193.00" cy="343.02" r="1.45" fill="#1B9E77" stroke="#1e1e2a" stroke-opacity="0.85" stroke-width="0.55"/>
<circle cx="196.00" cy="343.02" r="1.45" fill="#1B9E77" stroke="#1e1e2a" stroke-opacity="0.85" stroke-width="0.55"/>
<circle cx="198.50" cy="343.02" r="1.45" fill="#1B9E77" stroke="#1e1e2a" stroke-opacity="0.85" stroke-width="0.55"/>
<circle cx="194.50" cy="355.40" r="1.45" fill="#1B9E77" stroke="#1e1e2a" stroke-opacity="0.85" stroke-width="0.55"/>
<circle cx="193.00" cy="377.90" r="1.45" fill="#1B9E77" stroke="#1e1e2a" stroke-opacity="0.85" stroke-width="0.55"/>
<circle cx="196.00" cy="377.90" r="1.45" fill="#1B9E77" stroke="#1e1e2a" stroke-opacity="0.85" stroke-width="0.55"/>
<line x1="220.80" x2="220.80" y1="358.77" y2="332.90" stroke="#6a6a6a" stroke-width="0.8"/>
<line x1="220.80" x2="220.80" y1="381.65" y2="383.52" stroke="#6a6a6a" stroke-width="0.8"/>
<rect x="210.90" y="358.77" width="19.80" height="22.88" fill="#D95F02" stroke="#333333" stroke-width="0.5"/>
<line x1="210.90" x2="230.70" y1="376.77" y2="376.77" stroke="#333333" stroke-width="0.95"/>
<circle cx="220.80" cy="332.90" r="1.45" fill="#D95F02" stroke="#1e1e2a" stroke-opacity="0.85" stroke-width="0.55"/>
<circle cx="220.80" cy="349.77" r="1.45" fill="#D95F02" stroke="#1e1e2a" stroke-opacity="0.85" stroke-width="0.55"/>
<circle cx="219.30" cy="359.15" r="1.45" fill="#D95F02" stroke="#1e1e2a" stroke-opacity="0.85" stroke-width="0.55"/>
<circle cx="222.30" cy="359.15" r="1.45" fill="#D95F02" stroke="#1e1e2a" stroke-opacity="0.85" stroke-width="0.55"/>
<circle cx="218.30" cy="376.77" r="1.45" fill="#D95F02" stroke="#1e1e2a" stroke-opacity="0.85" stroke-width="0.55"/>
<circle cx="220.80" cy="376.77" r="1.45" fill="#D95F02" stroke="#1e1e2a" stroke-opacity="0.85" stroke-width="0.55"/>
<circle cx="223.30" cy="376.77" r="1.45" fill="#D95F02" stroke="#1e1e2a" stroke-opacity="0.85" stroke-width="0.55"/>
<circle cx="215.80" cy="383.52" r="1.45" fill="#D95F02" stroke="#1e1e2a" stroke-opacity="0.85" stroke-width="0.55"/>
<circle cx="218.30" cy="383.52" r="1.45" fill="#D95F02" stroke="#1e1e2a" stroke-opacity="0.85" stroke-width="0.55"/>
<circle cx="220.80" cy="383.52" r="1.45" fill="#D95F02" stroke="#1e1e2a" stroke-opacity="0.85" stroke-width="0.55"/>
<circle cx="223.30" cy="383.52" r="1.45" fill="#D95F02" stroke="#1e1e2a" stroke-opacity="0.85" stroke-width="0.55"/>
<circle cx="225.80" cy="383.52" r="1.45" fill="#D95F02" stroke="#1e1e2a" stroke-opacity="0.85" stroke-width="0.55"/>
<text x="203.30" y="291.00" font-size="3.3" text-anchor="middle" fill="#222" stroke="#222" stroke-width="0.092">Wilcoxon, p = 0.023</text>
<rect x="179.5" y="287" width="55.5" height="102.30000000000001" fill="none" stroke="#b0b0b0" stroke-width="0.6"/>
<text x="242.00" y="333.80" font-size="6.0" text-anchor="start" fill="#111" stroke="#111" stroke-width="0.072">Exercise Group</text>
<rect x="242.50" y="338.60" width="3.6" height="3.0" fill="#1B9E77" stroke="#222" stroke-width="0.6"/>
<text x="250.50" y="341.79" font-size="4.7" text-anchor="start" fill="#222" stroke="#222" stroke-width="0.118">Exercised</text>
<rect x="242.50" y="344.10" width="3.6" height="3.0" fill="#D95F02" stroke="#222" stroke-width="0.6"/>
<text x="250.50" y="347.29" font-size="4.7" text-anchor="start" fill="#222" stroke="#222" stroke-width="0.118">Sedentary</text>
<rect x="125.6" y="409.6" width="71.4" height="127.39999999999998" fill="#fff"/>
<line x1="125.6" x2="197" y1="519.65" y2="519.65" stroke="#f2f2f2" stroke-width="0.35"/>
<line x1="125.6" x2="197" y1="496.45" y2="496.45" stroke="#f2f2f2" stroke-width="0.35"/>
<line x1="125.6" x2="197" y1="473.25" y2="473.25" stroke="#f2f2f2" stroke-width="0.35"/>
<line x1="125.6" x2="197" y1="450.05" y2="450.05" stroke="#f2f2f2" stroke-width="0.35"/>
<line x1="125.6" x2="197" y1="426.85" y2="426.85" stroke="#f2f2f2" stroke-width="0.35"/>
<line x1="125.6" x2="197" y1="531.25" y2="531.25" stroke="#e9e9e9" stroke-width="0.6"/>
<line x1="124.1" x2="125.6" y1="531.25" y2="531.25" stroke="#555" stroke-width="0.5"/>
<text x="123.20" y="532.94" font-size="4.7" text-anchor="end" fill="#333" stroke="#333" stroke-width="0.141">0</text>
<line x1="125.6" x2="197" y1="508.05" y2="508.05" stroke="#e9e9e9" stroke-width="0.6"/>
<line x1="124.1" x2="125.6" y1="508.05" y2="508.05" stroke="#555" stroke-width="0.5"/>
<text x="123.20" y="509.74" font-size="4.7" text-anchor="end" fill="#333" stroke="#333" stroke-width="0.141">10</text>
<line x1="125.6" x2="197" y1="484.85" y2="484.85" stroke="#e9e9e9" stroke-width="0.6"/>
<line x1="124.1" x2="125.6" y1="484.85" y2="484.85" stroke="#555" stroke-width="0.5"/>
<text x="123.20" y="486.54" font-size="4.7" text-anchor="end" fill="#333" stroke="#333" stroke-width="0.141">20</text>
<line x1="125.6" x2="197" y1="461.65" y2="461.65" stroke="#e9e9e9" stroke-width="0.6"/>
<line x1="124.1" x2="125.6" y1="461.65" y2="461.65" stroke="#555" stroke-width="0.5"/>
<text x="123.20" y="463.34" font-size="4.7" text-anchor="end" fill="#333" stroke="#333" stroke-width="0.141">30</text>
<line x1="125.6" x2="197" y1="438.45" y2="438.45" stroke="#e9e9e9" stroke-width="0.6"/>
<line x1="124.1" x2="125.6" y1="438.45" y2="438.45" stroke="#555" stroke-width="0.5"/>
<text x="123.20" y="440.14" font-size="4.7" text-anchor="end" fill="#333" stroke="#333" stroke-width="0.141">40</text>
<line x1="125.6" x2="197" y1="415.25" y2="415.25" stroke="#e9e9e9" stroke-width="0.6"/>
<line x1="124.1" x2="125.6" y1="415.25" y2="415.25" stroke="#555" stroke-width="0.5"/>
<text x="123.20" y="416.94" font-size="4.7" text-anchor="end" fill="#333" stroke="#333" stroke-width="0.141">50</text>
<line x1="139.00" x2="139.00" y1="409.6" y2="537" stroke="#e9e9e9" stroke-width="0.6"/>
<line x1="139.00" x2="139.00" y1="537" y2="538.5" stroke="#555" stroke-width="0.5"/>
<text x="139.00" y="543.60" font-size="4.5" text-anchor="middle" fill="#333" stroke="#333" stroke-width="0.135">1) &lt;=25</text>
<line x1="161.50" x2="161.50" y1="409.6" y2="537" stroke="#e9e9e9" stroke-width="0.6"/>
<line x1="161.50" x2="161.50" y1="537" y2="538.5" stroke="#555" stroke-width="0.5"/>
<text x="161.50" y="543.60" font-size="4.5" text-anchor="middle" fill="#333" stroke="#333" stroke-width="0.135">2) 26-40</text>
<line x1="183.50" x2="183.50" y1="409.6" y2="537" stroke="#e9e9e9" stroke-width="0.6"/>
<line x1="183.50" x2="183.50" y1="537" y2="538.5" stroke="#555" stroke-width="0.5"/>
<text x="183.50" y="543.60" font-size="4.5" text-anchor="middle" fill="#333" stroke="#333" stroke-width="0.135">3) &gt;40</text>
<text x="117.40" y="473.30" font-size="5.3" text-anchor="middle" fill="#1a1a1a" stroke="#1a1a1a" stroke-width="0.064" transform="rotate(-90 117.40 473.30)">PI virtual/real ratio</text>
<text x="111.00" y="412.80" font-size="9.3" text-anchor="start" fill="#111" stroke="#111" stroke-width="0.140">g</text>
<line x1="139.00" x2="139.00" y1="510.83" y2="509.67" stroke="#6a6a6a" stroke-width="0.8"/>
<line x1="139.00" x2="139.00" y1="517.10" y2="520.81" stroke="#6a6a6a" stroke-width="0.8"/>
<rect x="130.50" y="510.83" width="17.00" height="6.26" fill="#1B9E77" stroke="#333333" stroke-width="0.5"/>
<line x1="130.50" x2="147.50" y1="513.85" y2="513.85" stroke="#333333" stroke-width="0.95"/>
<circle cx="139.00" cy="509.67" r="1.35" fill="#1B9E77" stroke="#1e1e2a" stroke-opacity="0.85" stroke-width="0.55"/>
<circle cx="139.00" cy="511.99" r="1.35" fill="#1B9E77" stroke="#1e1e2a" stroke-opacity="0.85" stroke-width="0.55"/>
<circle cx="139.00" cy="513.85" r="1.35" fill="#1B9E77" stroke="#1e1e2a" stroke-opacity="0.85" stroke-width="0.55"/>
<circle cx="139.00" cy="515.47" r="1.35" fill="#1B9E77" stroke="#1e1e2a" stroke-opacity="0.85" stroke-width="0.55"/>
<circle cx="139.00" cy="520.81" r="1.35" fill="#1B9E77" stroke="#1e1e2a" stroke-opacity="0.85" stroke-width="0.55"/>
<line x1="161.50" x2="161.50" y1="514.55" y2="500.16" stroke="#6a6a6a" stroke-width="0.8"/>
<line x1="161.50" x2="161.50" y1="526.26" y2="530.79" stroke="#6a6a6a" stroke-width="0.8"/>
<rect x="153.00" y="514.55" width="17.00" height="11.72" fill="#D95F02" stroke="#333333" stroke-width="0.5"/>
<line x1="153.00" x2="170.00" y1="521.74" y2="521.74" stroke="#333333" stroke-width="0.95"/>
<circle cx="161.50" cy="500.16" r="1.35" fill="#D95F02" stroke="#1e1e2a" stroke-opacity="0.85" stroke-width="0.55"/>
<circle cx="161.50" cy="510.37" r="1.35" fill="#D95F02" stroke="#1e1e2a" stroke-opacity="0.85" stroke-width="0.55"/>
<circle cx="161.50" cy="517.33" r="1.35" fill="#D95F02" stroke="#1e1e2a" stroke-opacity="0.85" stroke-width="0.55"/>
<circle cx="161.50" cy="519.65" r="1.35" fill="#D95F02" stroke="#1e1e2a" stroke-opacity="0.85" stroke-width="0.55"/>
<circle cx="161.50" cy="521.97" r="1.35" fill="#D95F02" stroke="#1e1e2a" stroke-opacity="0.85" stroke-width="0.55"/>
<circle cx="161.50" cy="524.29" r="1.35" fill="#D95F02" stroke="#1e1e2a" stroke-opacity="0.85" stroke-width="0.55"/>
<circle cx="161.50" cy="526.61" r="1.35" fill="#D95F02" stroke="#1e1e2a" stroke-opacity="0.85" stroke-width="0.55"/>
<circle cx="161.50" cy="530.79" r="1.35" fill="#D95F02" stroke="#1e1e2a" stroke-opacity="0.85" stroke-width="0.55"/>
<line x1="183.50" x2="183.50" y1="480.21" y2="451.21" stroke="#6a6a6a" stroke-width="0.8"/>
<line x1="183.50" x2="183.50" y1="506.43" y2="509.44" stroke="#6a6a6a" stroke-width="0.8"/>
<rect x="175.00" y="480.21" width="17.00" height="26.22" fill="#7471BC" stroke="#333333" stroke-width="0.5"/>
<line x1="175.00" x2="192.00" y1="493.90" y2="493.90" stroke="#333333" stroke-width="0.95"/>
<circle cx="183.50" cy="451.21" r="1.35" fill="#7471BC" stroke="#1e1e2a" stroke-opacity="0.85" stroke-width="0.55"/>
<circle cx="183.50" cy="477.89" r="1.35" fill="#7471BC" stroke="#1e1e2a" stroke-opacity="0.85" stroke-width="0.55"/>
<circle cx="183.50" cy="489.49" r="1.35" fill="#7471BC" stroke="#1e1e2a" stroke-opacity="0.85" stroke-width="0.55"/>
<circle cx="183.50" cy="498.31" r="1.35" fill="#7471BC" stroke="#1e1e2a" stroke-opacity="0.85" stroke-width="0.55"/>
<circle cx="183.50" cy="509.44" r="1.35" fill="#7471BC" stroke="#1e1e2a" stroke-opacity="0.85" stroke-width="0.55"/>
<circle cx="183.50" cy="515.94" r="1.35" fill="#7471BC" stroke="#1e1e2a" stroke-opacity="0.85" stroke-width="0.55"/>
<path d="M139.00 431.20V428.00H183.50V431.20" fill="none" stroke="#333" stroke-width="0.45"/>
<text x="161.25" y="427.80" font-size="4.5" text-anchor="middle" fill="#222" stroke="#222" stroke-width="0.054">*</text>
<path d="M161.50 440.70V437.50H183.50V440.70" fill="none" stroke="#333" stroke-width="0.45"/>
<text x="172.50" y="437.30" font-size="4.5" text-anchor="middle" fill="#222" stroke="#222" stroke-width="0.054">**</text>
<path d="M139.00 450.30V447.10H161.10V450.30" fill="none" stroke="#333" stroke-width="0.45"/>
<text x="150.05" y="446.10" font-size="4.2" text-anchor="middle" fill="#222" stroke="#222" stroke-width="0.126">ns</text>
<text x="129.60" y="415.50" font-size="4.1" text-anchor="start" fill="#222" stroke="#222" stroke-width="0.115">Kruskal-Wallis, p = 0.014</text>
<rect x="125.6" y="409.6" width="71.4" height="127.39999999999998" fill="none" stroke="#a0a0a0" stroke-width="0.8"/>
<text x="202.50" y="465.00" font-size="5.25" text-anchor="start" fill="#111" stroke="#111" stroke-width="0.063">Age Group</text>
<rect x="203.50" y="469.60" width="4.8" height="3.4" fill="#1B9E77" stroke="#222" stroke-width="0.6"/>
<circle cx="205.90" cy="471.30" r="0.9" fill="#1B9E77" stroke="#222" stroke-width="0.4"/>
<text x="212.00" y="472.99" font-size="4.7" text-anchor="start" fill="#222" stroke="#222" stroke-width="0.118">1) &lt;=25</text>
<rect x="203.50" y="476.16" width="4.8" height="3.4" fill="#D95F02" stroke="#222" stroke-width="0.6"/>
<circle cx="205.90" cy="477.86" r="0.9" fill="#D95F02" stroke="#222" stroke-width="0.4"/>
<text x="212.00" y="479.55" font-size="4.7" text-anchor="start" fill="#222" stroke="#222" stroke-width="0.118">2) 26-40</text>
<rect x="203.50" y="482.72" width="4.8" height="3.4" fill="#7471BC" stroke="#222" stroke-width="0.6"/>
<circle cx="205.90" cy="484.42" r="0.9" fill="#7471BC" stroke="#222" stroke-width="0.4"/>
<text x="212.00" y="486.11" font-size="4.7" text-anchor="start" fill="#222" stroke="#222" stroke-width="0.118">3) &gt;40</text>
</svg>
</body></html>
